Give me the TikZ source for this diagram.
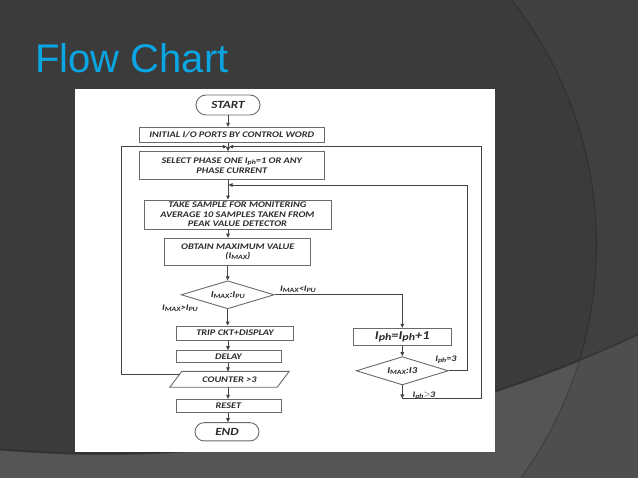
\documentclass[tikz,border=0pt]{standalone}
\usepackage{fontspec}
\setmainfont{Liberation Sans}
\newfontfamily\titlefont{Liberation Sans}
\newfontfamily\cf[FakeStretch=1.2]{Carlito}
\usetikzlibrary{arrows.meta,shapes.geometric,shapes.misc,calc}
\definecolor{bgdark}{HTML}{3B3B3B}
\definecolor{bgright}{HTML}{404040}
\definecolor{bgbottom}{HTML}{555555}
\definecolor{bgbotright}{HTML}{4E4E4E}
\definecolor{titleblue}{HTML}{0AA6E4}
\definecolor{boxline}{HTML}{6A6A6A}
\definecolor{conn}{HTML}{444444}
\definecolor{txt}{HTML}{2B2B2B}
\newcommand{\sbs}[1]{\raisebox{-0.3ex}{\fontsize{6.5}{6.5}\selectfont #1}}
\tikzset{
 fc/.style={font=\cf\bfseries\itshape\fontsize{8.6}{9.6}\selectfont, text=txt},
 stepbox/.style={draw=boxline, line width=0.9pt, fill=white, inner sep=0pt, align=center, fc},
 term/.style={stepbox, rounded rectangle, font=\cf\bfseries\itshape\fontsize{11}{11}\selectfont},
 dec/.style={stepbox, diamond, aspect=3.3},
 arr/.style={draw=conn, line width=0.8pt, -{Triangle[length=4pt,width=3.6pt]}},
 lab/.style={font=\cf\bfseries\itshape\fontsize{8.5}{8.5}\selectfont, text=txt, inner sep=0pt},
 botregion/.style={insert path={(0,478) -- plot[domain=0:638, samples=50] (\x, {-796+100*sqrt(156.5001-((\x-105)/100)^2)}) -- (638,478) -- cycle}},
 rightregion/.style={insert path={(638,0) -- plot[domain=0:478, samples=50] ({200+100*sqrt(15.725-((\x-245)/100)^2)}, \x) -- (638,478) -- cycle}},
}
\begin{document}
\begin{tikzpicture}[x=1pt,y=-1pt]
\useasboundingbox (0,0) rectangle (638,478);
% background
\fill[bgdark] (0,0) rectangle (638,478);
\fill[bgright, rightregion];
\fill[bgbottom, botregion];
\begin{scope}
\clip[botregion];
\fill[bgbotright, rightregion];
\end{scope}
\draw[black, opacity=0.22, line width=1pt] plot[domain=0:478, samples=50] ({200+100*sqrt(15.725-((\x-245)/100)^2)}, \x);
\draw[black, opacity=0.18, line width=1.2pt] plot[domain=0:638, samples=50] (\x, {-797.5+100*sqrt(156.5001-((\x-105)/100)^2)});
% white panel
\fill[white] (75,89) rectangle (495,452);
% title
\node[anchor=base west, inner sep=0pt, text=titleblue, font=\titlefont\fontsize{40}{40}\selectfont] (title) at (35,73) {Flow Chart};
% nodes
\node[term, minimum width=64pt, minimum height=20pt] (start) at (228,105) {START};
\node[stepbox, minimum width=185pt, minimum height=15pt] (init) at (231.8,134.8) {INITIAL I/O PORTS BY CONTROL WORD};
\node[stepbox, minimum width=185pt, minimum height=27.6pt] (sel) at (231.8,165.5) {SELECT PHASE ONE I\sbs{ph}=1 OR ANY\\PHASE CURRENT};
\node[stepbox, minimum width=187pt, minimum height=29pt] (take) at (237.5,214.5) {TAKE SAMPLE FOR MONITERING\\AVERAGE 10 SAMPLES TAKEN FROM\\PEAK VALUE DETECTOR};
\node[stepbox, minimum width=146pt, minimum height=27pt] (obt) at (237.8,251.7) {OBTAIN MAXIMUM VALUE\\(I\sbs{MAX})};
\node[dec, minimum width=93pt, minimum height=28pt] (d1) at (227.7,294.8) {\fontsize{9}{9}\selectfont I\sbs{MAX}:I\sbs{PU}};
\node[stepbox, minimum width=117pt, minimum height=14pt] (trip) at (235,333) {TRIP CKT+DISPLAY};
\node[stepbox, minimum width=105pt, minimum height=12pt] (del) at (228.5,356.7) {DELAY};
\node[fc, minimum width=107pt, minimum height=15.5pt, inner sep=0pt] (cnt) at (229.5,379.3) {COUNTER >3};
\draw[draw=boxline, line width=0.9pt] ($(cnt.north west)+(6,0)$) -- ($(cnt.north east)+(6,0)$) -- ($(cnt.south east)+(-6,0)$) -- ($(cnt.south west)+(-6,0)$) -- cycle;
\node[stepbox, minimum width=105pt, minimum height=13pt] (rst) at (228.5,405.8) {RESET};
\node[term, minimum width=64pt, minimum height=18.3pt] (fin) at (227,431.8) {END};
\node[stepbox, minimum width=98pt, minimum height=17.4pt, font=\cf\bfseries\itshape\fontsize{12}{12}\selectfont] (iph) at (402.3,337) {I\raisebox{-0.3ex}{\fontsize{10}{10}\selectfont ph}=I\raisebox{-0.3ex}{\fontsize{10}{10}\selectfont ph}+1};
\node[dec, minimum width=92pt, minimum height=28.3pt] (d2) at (402.3,370.8) {\fontsize{9}{9}\selectfont I\sbs{MAX}:I3};
% coordinates
\coordinate (sp) at (228,0);
\coordinate (jA) at (228,146.7);
\coordinate (jB) at (228,185);
\coordinate (cntL) at (179.7,374.5);
\coordinate (loopL) at (121.7,146.7);
\coordinate (bot) at (402.3,398.5);
\coordinate (outR) at (481.7,146.7);
\coordinate (inR) at (467.7,185);
% connectors
\draw[arr] (start.south) -- (start.south |- init.north);
\draw[arr] (init.south -| sp) -- (sel.north -| sp);
\draw[arr] (sel.south -| sp) -- (take.north -| sp);
\draw[arr] (take.south -| sp) -- (obt.north -| sp);
\draw[arr] (obt.south -| d1.north) -- (d1.north);
\draw[arr] (d1.south) -- (d1.south |- trip.north);
\draw[arr] (trip.south -| sp) -- (del.north -| sp);
\draw[arr] (del.south -| sp) -- (cnt.north -| sp);
\draw[arr] (cnt.south -| sp) -- (rst.north -| sp);
\draw[arr] (rst.south -| sp) -- (fin.north -| sp);
\draw[arr] (d1.east) -| (iph.north);
\draw[arr] (iph.south) -- (d2.north);
\draw[arr] (cntL) -- (loopL |- cntL) -- (loopL) -- ($(jA)+(-1.2,0)$);
\draw[arr] (d2.south) -- (bot);
\draw[arr] (bot) -- (outR |- bot) -- (outR) -- ($(jA)+(1.2,0)$);
\draw[arr] (d2.east) -- (inR |- d2.east) -- (inR) -- ($(jB)+(0.5,0)$);
% labels
\node[lab, anchor=south west] (l1) at (280,293) {I\sbs{MAX}<I\sbs{PU}};
\node[lab] (l2) at (180,308) {I\sbs{MAX}>I\sbs{PU}};
\node[lab] (l3) at (446,360) {I\sbs{ph}=3};
\node[lab] (l4) at (424,395.5) {I\sbs{ph}$\geq$3};
\end{tikzpicture}
\end{document}
